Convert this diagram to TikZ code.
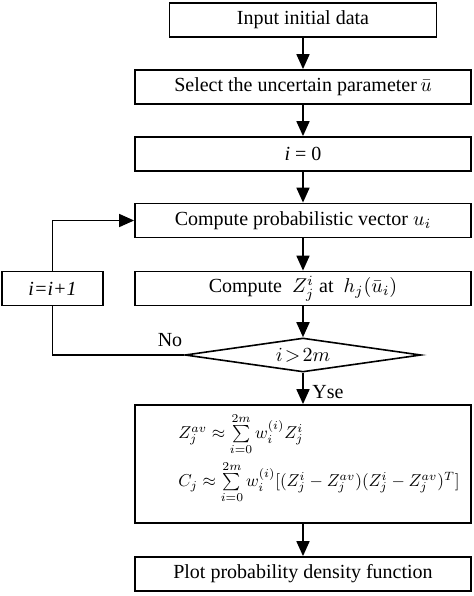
\documentclass[tikz,border=0pt]{standalone}
\usepackage{fontspec}
\setmainfont{Liberation Serif}
\usetikzlibrary{shapes.geometric,arrows.meta}
\begin{document}
\begin{tikzpicture}[x=0.5pt,y=-0.5pt,
  box/.style={draw,line width=0.9pt,minimum width=168pt,minimum height=17pt,inner sep=0pt,font=\fontsize{10}{12}\selectfont},
  lbl/.style={inner sep=0pt,font=\fontsize{10}{12}\selectfont},
  frm/.style={anchor=west,inner sep=0pt},
  arr/.style={line width=0.9pt,-{Triangle[length=7.5pt,width=6.5pt]}},
  ln/.style={line width=0.8pt}]
\useasboundingbox (0,0) rectangle (474,596);
\node[box,minimum width=133.5pt] (b1) at (303,20) {Input initial data};
\node[box] (b2) at (303,87) {Select the uncertain parameter\,$\bar{u}$};
\node[box] (b3) at (303,154) {\textit{i} = 0};
\node[box] (b4) at (303,220.5) {Compute probabilistic vector $u_i$};
\node[box] (b5) at (303,288.5) {Compute~ $Z_j^i$ at~ $h_j(\bar{u}_i)$};
\node[draw,line width=0.8pt,diamond,minimum width=118pt,minimum height=17pt,inner sep=0pt,aspect=7,font=\fontsize{10}{12}\selectfont] (d) at (303,355) {$i\!>\!2m$};
\node[box,minimum height=59pt] (b6) at (303,464) {};
\node[frm] (f1) at (178,434) {\scalebox{0.86}{$Z_j^{av}\approx\sum\limits_{i=0}^{2m} w_i^{(i)}Z_j^i$}};
\node[frm] (f2) at (178,482) {\scalebox{0.86}{$C_j\approx\sum\limits_{i=0}^{2m} w_i^{(i)}[(Z_j^i-Z_j^{av})(Z_j^i-Z_j^{av})^T]$}};
\node[box] (b7) at (303,574) {Plot probability density function};
\node[box,minimum width=50.5pt] (inc) at (52.5,288.5) {\textit{i=i+1}};
\node[lbl] (no) at (170,340) {No};
\node[lbl] (yes) at (328,392) {Yse};
\draw[arr] (b1) -- (b2);
\draw[arr] (b2) -- (b3);
\draw[arr] (b3) -- (b4);
\draw[arr] (b4) -- (b5);
\draw[arr] (b5) -- (d);
\draw[arr] (d) -- (b6);
\draw[arr] (b6) -- (b7);
\draw[ln] (d.west) -| (inc.south);
\draw[arr,line width=0.8pt] (inc.north) |- (b4.west);
\end{tikzpicture}
\end{document}
